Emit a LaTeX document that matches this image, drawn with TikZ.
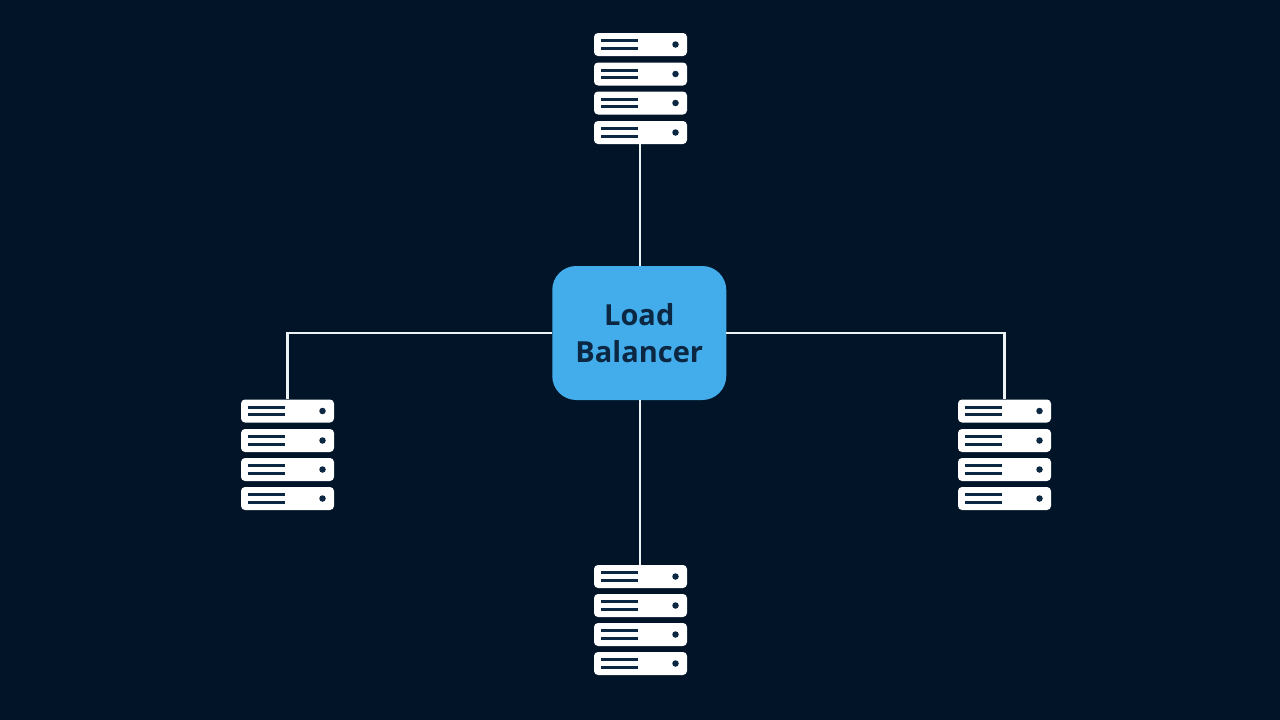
\documentclass[tikz,border=0pt]{standalone}
\usepackage{fontspec}
\setmainfont{Open Sans}
\definecolor{bgc}{HTML}{021428}
\definecolor{lbc}{HTML}{43ADEB}
\definecolor{ink}{HTML}{0B2742}
\definecolor{wire}{HTML}{EEF3F6}
\tikzset{
  lbbox/.style={draw=none,fill=lbc,rounded corners=24pt,minimum width=174pt,minimum height=134pt,inner sep=0pt,align=center,text=ink,font=\bfseries\fontsize{29}{37.5}\selectfont},
  unitrow/.style={draw=none,fill=white,rounded corners=4pt,minimum width=93pt,minimum height=23pt,inner sep=0pt},
  wirel/.style={draw=wire,line width=2.8pt},
  slot/.style={draw=ink,line width=3pt},
  led/.style={fill=ink,draw=none,circle,minimum size=6.5pt,inner sep=0pt}
}
\newcommand{\unitat}[3]{% name, cx, cy
  \node[unitrow] (#1) at (#2,#3) {};
  \node[led] (#1d) at ($(#1.center)+(35,0)$) {};
  \coordinate (#1a) at ($(#1.west)+(7,-4)$);
  \coordinate (#1b) at ($(#1.west)+(44,-4)$);
  \coordinate (#1c) at ($(#1.west)+(7,3.5)$);
  \coordinate (#1e) at ($(#1.west)+(44,3.5)$);
  \draw[slot] (#1a) -- (#1b);
  \draw[slot] (#1c) -- (#1e);
}
\usetikzlibrary{calc}
\begin{document}
\begin{tikzpicture}[x=1pt,y=-1pt]
\useasboundingbox (0,0) rectangle (1280,720);
\fill[bgc] (0,0) rectangle (1280,720);
\node[lbbox] (lb) at (639.25,333) {Load\\Balancer};
\foreach \n/\cx/\a/\b/\c/\d in {top/640.5/44.5/74/103/132.5,left/287.5/411/440.5/469.5/498.5,right/1004.5/411/440.5/469.5/498.5,bot/640.5/576.5/605.5/634.5/663.5}{
  \unitat{\n1}{\cx}{\a}
  \unitat{\n2}{\cx}{\b}
  \unitat{\n3}{\cx}{\c}
  \unitat{\n4}{\cx}{\d}
}
\coordinate (topw) at ($(top4.south)+(-0.5,0)$);
\coordinate (botw) at ($(bot1.north)+(-0.5,0)$);
\draw[wirel] (topw) -- (topw |- lb.north);
\draw[wirel] (botw) -- (botw |- lb.south);
\draw[wirel] (lb.west) -| (left1.north);
\draw[wirel] (lb.east) -| (right1.north);
\end{tikzpicture}
\end{document}
